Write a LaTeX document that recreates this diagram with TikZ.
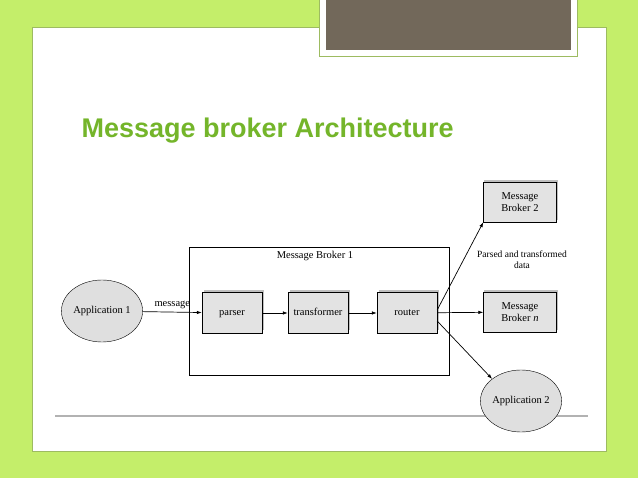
\documentclass[tikz,border=0pt]{standalone}
\usepackage{fontspec}
\setmainfont{Liberation Serif}
\newfontfamily\sanss{Liberation Sans}
\usetikzlibrary{arrows.meta,shapes.geometric}
\definecolor{bggreen}{HTML}{C4EE6A}
\definecolor{edge}{HTML}{9DBB61}
\definecolor{graybox}{HTML}{72685A}
\definecolor{titlegreen}{HTML}{74B52A}
\begin{document}
\begin{tikzpicture}[x=1pt,y=-1pt,
  lab/.style={font=\fontsize{10.5}{12}\selectfont},
  comp/.style={draw,fill=gray!22,minimum width=60pt,minimum height=41pt,lab,inner sep=1pt,text height=7pt,text depth=2pt},
  box/.style={draw,fill=gray!22,minimum width=73pt,minimum height=40pt,lab,align=center},
  app/.style={ellipse,draw,fill=gray!25,minimum width=73pt,minimum height=62pt,lab,inner sep=0pt},
  arr/.style={-{Latex[length=5pt,width=3.5pt]},line width=0.7pt}]
\useasboundingbox (0,0) rectangle (638,478);
\fill[bggreen] (0,0) rectangle (638,478);
\fill[white,draw=edge,line width=1pt] (32,28) rectangle (606,452);
\fill[white,draw=edge,line width=1pt] (319,-2) rectangle (577,57);
\fill[graybox] (326,-2) rectangle (571,50);
\node[anchor=west,font=\sanss\bfseries\fontsize{27}{30}\selectfont,text=titlegreen] (title) at (78,131) {Message broker Architecture};
\draw[gray!60,line width=2pt] (55,416) -- (588,416);
\node[draw,minimum width=260pt,minimum height=128pt,line width=0.7pt] (mb1) at (319,311) {};
\node[lab] (mb1l) at (315,256) {Message Broker 1};
\foreach \n/\x/\t in {parser/232/parser,trans/318/transformer,router/407/router}{
  \fill[gray!50] (\x-28,290) rectangle (\x+32,330);
  \node[comp] (\n) at (\x,313) {\t};
}
\node[app] (app1) at (102,311) {Application 1};
\node[app] (app2) at (521,401) {Application 2};
\foreach \n/\y/\t in {mb2/202/{Message\\Broker 2},mbn/312/{Message\\Broker \textit{n}}}{
  \fill[gray!50] (484,\y-22) rectangle (558,\y+18);
  \node[box] (\n) at (520,\y) {\t};
}
\draw[arr] (app1) -- node[above,lab]{message} (parser);
\draw[arr] (parser) -- (trans);
\draw[arr] (trans) -- (router);
\draw[arr] (router) -- (mbn);
\draw[arr] (router.east) ++(0,-3) coordinate (r1) -- (mb2.south west);
\draw[arr] (router.east) ++(0,8) coordinate (r2) -- (app2.north west);
\node[font=\fontsize{9.5}{11}\selectfont,align=center] (lbl) at (522,260) {Parsed and transformed\\data};
\end{tikzpicture}
\end{document}
